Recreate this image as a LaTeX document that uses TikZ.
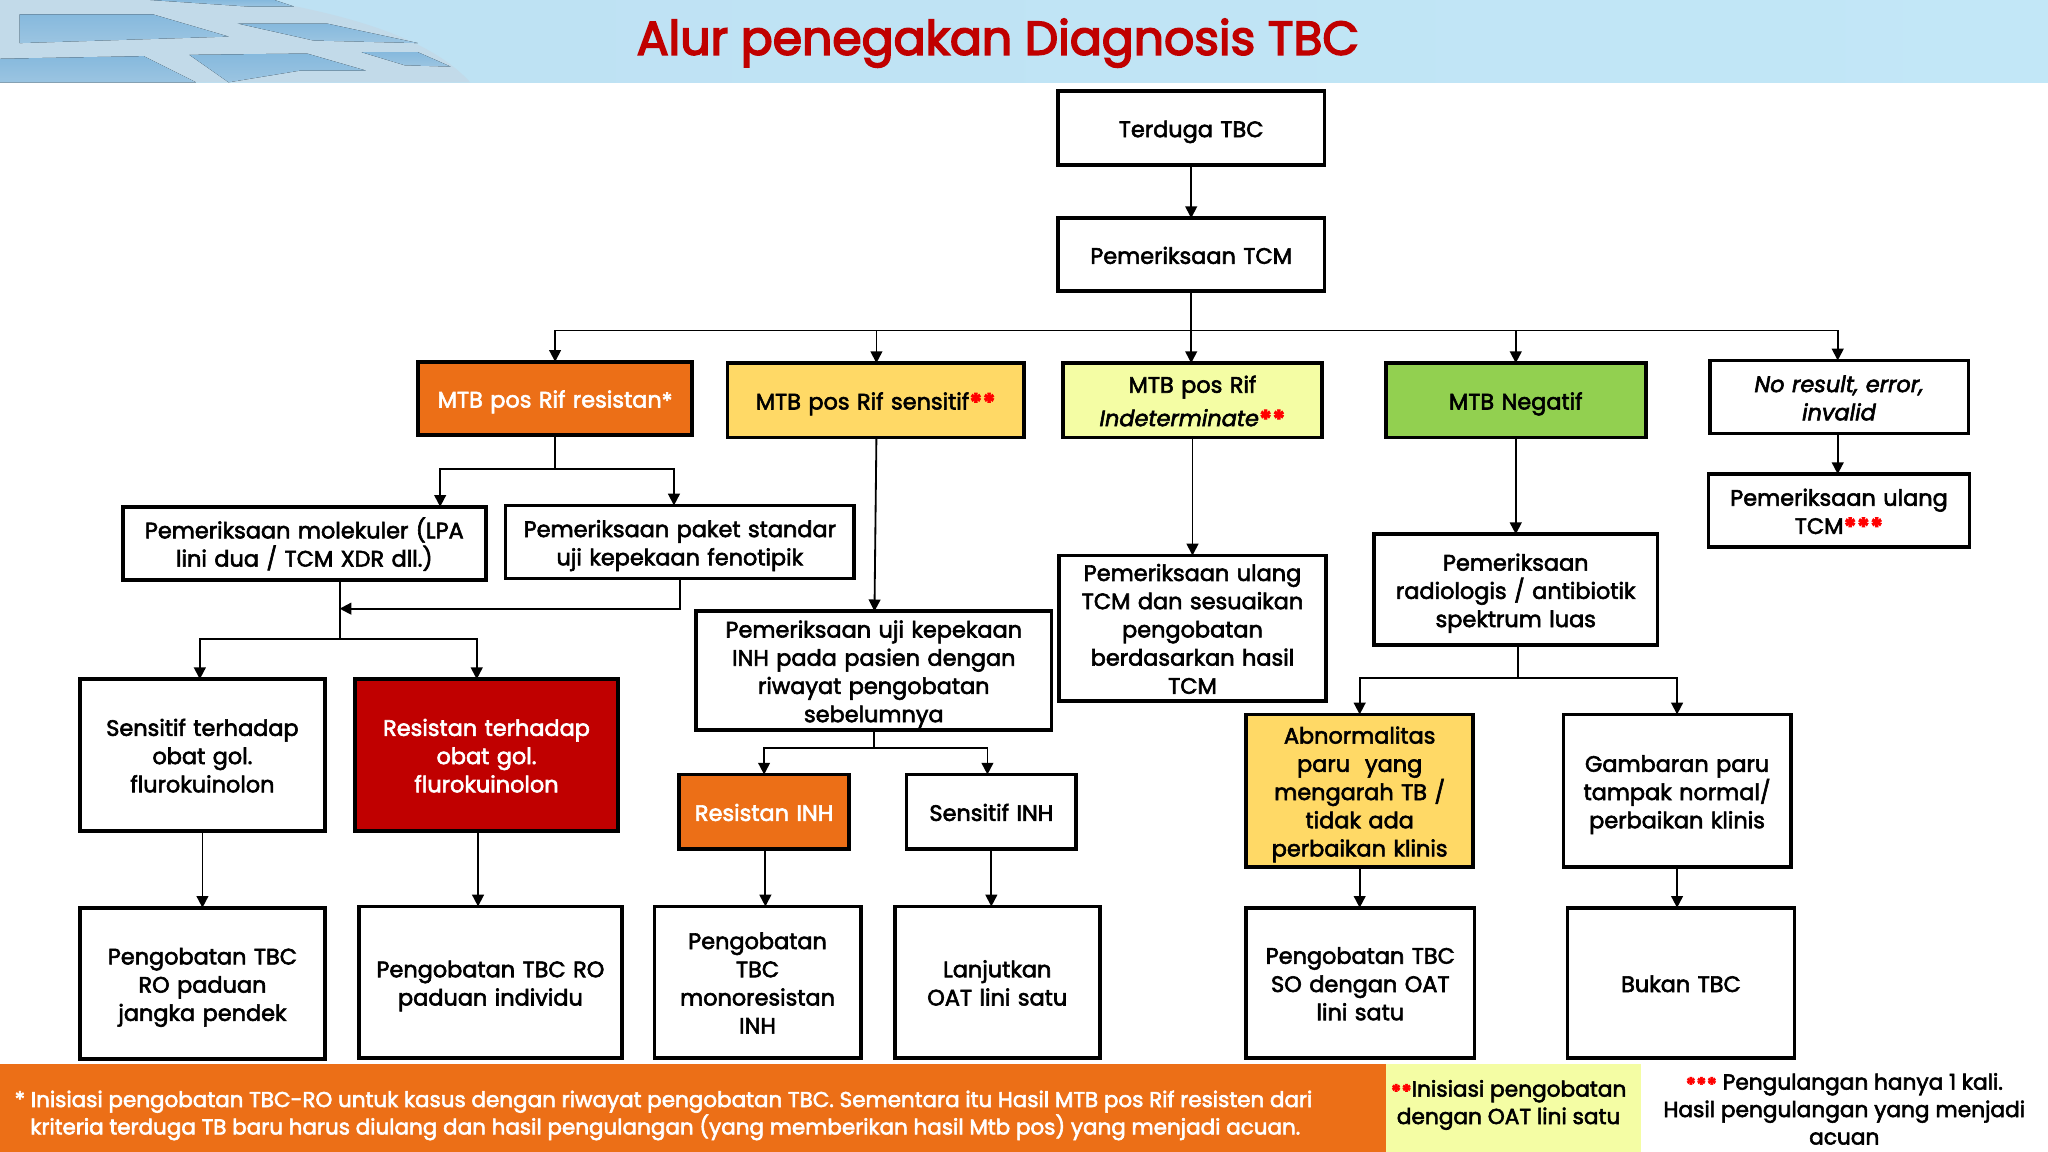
\documentclass[tikz,border=0pt]{standalone}
\usepackage{fontspec}
\setmainfont{Poppins}[FakeBold=2.6]
\newfontfamily\titlefont{Poppins}[FakeBold=3.5]
\usepackage{xcolor}
\usetikzlibrary{positioning,arrows.meta}
\definecolor{bannerblue}{HTML}{C2E7F7}
\definecolor{bannerleft}{HTML}{BDE0F2}
\definecolor{globeblue}{HTML}{C2DAE9}
\definecolor{meshblue}{HTML}{86B9DD}
\definecolor{titlered}{HTML}{C00000}
\definecolor{orangebox}{HTML}{EC6F17}
\definecolor{yellowbox}{HTML}{FFD966}
\definecolor{paleyellow}{HTML}{F4FDA4}
\definecolor{greenbox}{HTML}{92D050}
\definecolor{redbox}{HTML}{C00000}
\tikzset{
  flowbox/.style={draw=black,line width=2.8pt,fill=white,align=center,inner ysep=0pt,inner xsep=-1pt,outer sep=0pt,
    font=\fontsize{17.15}{21.6}\selectfont,execute at begin node={\rule{0pt}{19.5pt}},execute at end node={\rule[-5.5pt]{0pt}{5.5pt}}},
  flowarrow/.style={line width=1.4pt,-{Triangle[length=9pt,width=9pt]}},
  flowline/.style={line width=1.4pt},
  notetext/.style={align=center,inner sep=0pt,font=\fontsize{16.6}{21}\selectfont},
  meshpatch/.style={top color=meshblue,bottom color=meshblue!65!globeblue}
}
\newcommand{\redstar}[2][19]{\raisebox{-1.5pt}[0pt][0pt]{\textcolor{red}{\fontsize{#1}{#1}\selectfont\bfseries #2}}}
\begin{document}
\begin{tikzpicture}[x=1pt,y=-1pt]
  \useasboundingbox (0,0) rectangle (1568,882);

  % Banner
  \fill[left color=bannerleft,right color=bannerblue] (0,0) rectangle (1568,63);
  \fill[globeblue] (0,0) -- (200,0) .. controls (270,12) and (330,30) .. (360,63) -- (0,63) -- cycle;
  \fill[meshpatch] (15,11) -- (117,11) -- (175,28) -- (15,33) -- cycle;
  \fill[meshpatch] (182,18) -- (250,18) -- (320,33) -- (240,31) -- cycle;
  \fill[meshpatch] (277,40) -- (320,40) -- (345,51) -- (310,50) -- cycle;
  \fill[meshpatch] (0,45) -- (110,43) -- (150,63) -- (0,63) -- cycle;
  \fill[meshpatch] (145,42) -- (235,41) -- (280,54) -- (230,54) -- (175,63) -- cycle;
  \fill[meshpatch] (115,0) -- (210,0) -- (225,5) -- (190,5) -- cycle;
  \node[inner sep=0pt,text=titlered,font=\titlefont\fontsize{36.2}{40}\selectfont] (title) at (764,33) {Alur penegakan Diagnosis TBC};

  % Footer
  \fill[orangebox] (0,815) rectangle (1061,882);
  \fill[paleyellow] (1061,815) rectangle (1256,882);
  \node[notetext,text=white,align=left,font=\fontsize{16.45}{21}\selectfont] (noteone) at (508,854) {* Inisiasi pengobatan TBC-RO untuk kasus dengan riwayat pengobatan TBC. Sementara itu Hasil MTB pos Rif resisten dari\\\hspace*{12pt}kriteria terduga TB baru harus diulang dan hasil pengulangan (yang memberikan hasil Mtb pos) yang menjadi acuan.};
  \node[notetext] (notetwo) at (1155,846) {\redstar[15]{**}Inisiasi pengobatan\\dengan OAT lini satu};
  \node[notetext] (notethree) at (1412,849) {\redstar[15]{***} Pengulangan hanya 1 kali.\\Hasil pengulangan yang menjadi\\acuan};

  % Top of the chart
  \node[flowbox,text width=206pt,minimum height=57pt] (terduga) at (912,98) {Terduga TBC};
  \node[flowbox,text width=206pt,minimum height=56pt] (tcm) at (912,195) {Pemeriksaan TCM};

  % Results of TCM
  \node[flowbox,text width=212pt,minimum height=56pt,fill=orangebox,text=white] (rifres) at (425,305) {MTB pos Rif resistan\raisebox{-1pt}[0pt][0pt]{\fontsize{17}{17}\selectfont *}};
  \node[flowbox,text width=229pt,minimum height=57pt,fill=yellowbox] (rifsen) at (670.5,306.5) {MTB pos Rif sensitif\redstar{**}};
  \node[flowbox,text width=200pt,minimum height=57pt,fill=paleyellow] (rifind) at (913,306.5) {MTB pos Rif\\[4pt]\textit{Indeterminate}\redstar{**}};
  \node[flowbox,text width=201pt,minimum height=57pt,fill=greenbox] (negatif) at (1160.5,306.5) {MTB Negatif};
  \node[flowbox,text width=200pt,minimum height=56pt] (noresult) at (1408,304) {\textit{No result, error,}\\\textit{invalid}};

  % Second row
  \node[flowbox,text width=280pt,minimum height=56pt] (molekuler) at (233,416) {Pemeriksaan molekuler (LPA\\lini dua / TCM XDR dll.)};
  \node[flowbox,text width=269pt,minimum height=56pt] (paket) at (520.5,415) {Pemeriksaan paket standar\\uji kepekaan fenotipik};
  \node[flowbox,text width=274pt,minimum height=91pt] (ujiinh) at (669,513.5) {Pemeriksaan uji kepekaan\\INH pada pasien dengan\\riwayat pengobatan\\sebelumnya};
  \node[flowbox,text width=206pt,minimum height=111pt] (ulangtcm) at (913,481) {Pemeriksaan ulang\\TCM dan sesuaikan\\pengobatan\\berdasarkan hasil\\TCM};
  \node[flowbox,text width=219pt,minimum height=85pt] (radiologis) at (1160.5,451.5) {Pemeriksaan\\radiologis / antibiotik\\spektrum luas};
  \node[flowbox,text width=202pt,minimum height=56pt] (ulang) at (1408,391) {Pemeriksaan ulang\\TCM\redstar{***}};

  % Third row
  \node[flowbox,text width=190pt,minimum height=116pt] (senfluro) at (155,578) {Sensitif terhadap\\obat gol.\\flurokuinolon};
  \node[flowbox,text width=203pt,minimum height=116pt,fill=redbox,text=white] (resfluro) at (372.5,578) {Resistan terhadap\\obat gol.\\flurokuinolon};
  \node[flowbox,text width=132pt,minimum height=57pt,fill=orangebox,text=white] (resinh) at (585,621.5) {Resistan INH};
  \node[flowbox,text width=132pt,minimum height=57pt] (seninh) at (759,621.5) {Sensitif INH};
  \node[flowbox,text width=176pt,minimum height=117pt,fill=yellowbox] (abnormal) at (1041,605.5) {Abnormalitas\\paru\ \ yang\\mengarah TB /\\tidak ada\\perbaikan klinis};
  \node[flowbox,text width=176pt,minimum height=117pt] (gambaran) at (1284,605.5) {Gambaran paru\\tampak normal/\\perbaikan klinis};

  % Last row
  \node[flowbox,text width=190pt,minimum height=116pt] (ropendek) at (155,753) {Pengobatan TBC\\RO paduan\\jangka pendek};
  \node[flowbox,text width=203pt,minimum height=116pt] (roindividu) at (375.5,752) {Pengobatan TBC RO\\paduan individu};
  \node[flowbox,text width=160pt,minimum height=116pt] (mono) at (580,752) {Pengobatan\\TBC\\monoresistan\\INH};
  \node[flowbox,text width=159pt,minimum height=116pt] (lanjut) at (763.5,752) {Lanjutkan\\OAT lini satu};
  \node[flowbox,text width=177pt,minimum height=115pt] (tbcso) at (1041.5,752.5) {Pengobatan TBC\\SO dengan OAT\\lini satu};
  \node[flowbox,text width=176pt,minimum height=115pt] (bukan) at (1287,752.5) {Bukan TBC};

  % Branch points
  \coordinate (tcmbr) at (912,253);
  \coordinate (rifbr) at (425,359);
  \coordinate (molbr) at (260,489);
  \coordinate (paketbr) at (260,466);
  \coordinate (inhbr) at (669,573);
  \coordinate (radbr) at (1162,519);

  % Connectors
  \draw[flowarrow] (terduga) -- (tcm);
  \draw[flowline] (tcm) -- (tcmbr);
  \draw[flowarrow] (tcmbr) -| (rifres.north);
  \draw[flowarrow] (tcmbr) -| ([xshift=0.5pt]rifsen.north);
  \draw[flowarrow] (tcmbr) -- (tcmbr |- rifind.north);
  \draw[flowarrow] (tcmbr) -| (negatif.north);
  \draw[flowarrow] (tcmbr) -| ([xshift=-1pt]noresult.north);

  \draw[flowline] (rifres) -- (rifbr);
  \draw[flowarrow] (rifbr) -| ([xshift=104pt]molekuler.north);
  \draw[flowarrow] (rifbr) -| ([xshift=-4.5pt]paket.north);

  \draw[flowline] (molekuler.south -| molbr) -- (molbr);
  \draw[flowarrow] (paket.south) |- (paketbr);
  \draw[flowarrow] (molbr) -| ([xshift=-2pt]senfluro.north);
  \draw[flowarrow] (molbr) -| ([xshift=-7.5pt]resfluro.north);

  \draw[flowarrow] ([xshift=0.5pt]rifsen.south) -- (ujiinh);
  \draw[flowarrow] (rifind) -- (ulangtcm);
  \draw[flowarrow] (negatif) -- (radiologis);
  \draw[flowarrow] ([xshift=-1pt]noresult.south) -- ([xshift=-1pt]ulang.north);

  \draw[flowline] (ujiinh.south) -- (inhbr);
  \draw[flowarrow] (inhbr) -| (resinh.north);
  \draw[flowarrow] (inhbr) -| ([xshift=-3pt]seninh.north);

  \draw[flowline] (radiologis.south -| radbr) -- (radbr);
  \draw[flowarrow] (radbr) -| (abnormal.north);
  \draw[flowarrow] (radbr) -| (gambaran.north);

  \draw[flowarrow] (senfluro.south) -- (ropendek.north);
  \draw[flowarrow] ([xshift=-6.5pt]resfluro.south) -- ([xshift=-9.5pt]roindividu.north);
  \draw[flowarrow] ([xshift=1pt]resinh.south) -- ([xshift=6pt]mono.north);
  \draw[flowarrow] (seninh.south) -- ([xshift=-4.5pt]lanjut.north);
  \draw[flowarrow] (abnormal.south) -- ([xshift=-0.5pt]tbcso.north);
  \draw[flowarrow] (gambaran.south) -- ([xshift=-3pt]bukan.north);
\end{tikzpicture}
\end{document}
